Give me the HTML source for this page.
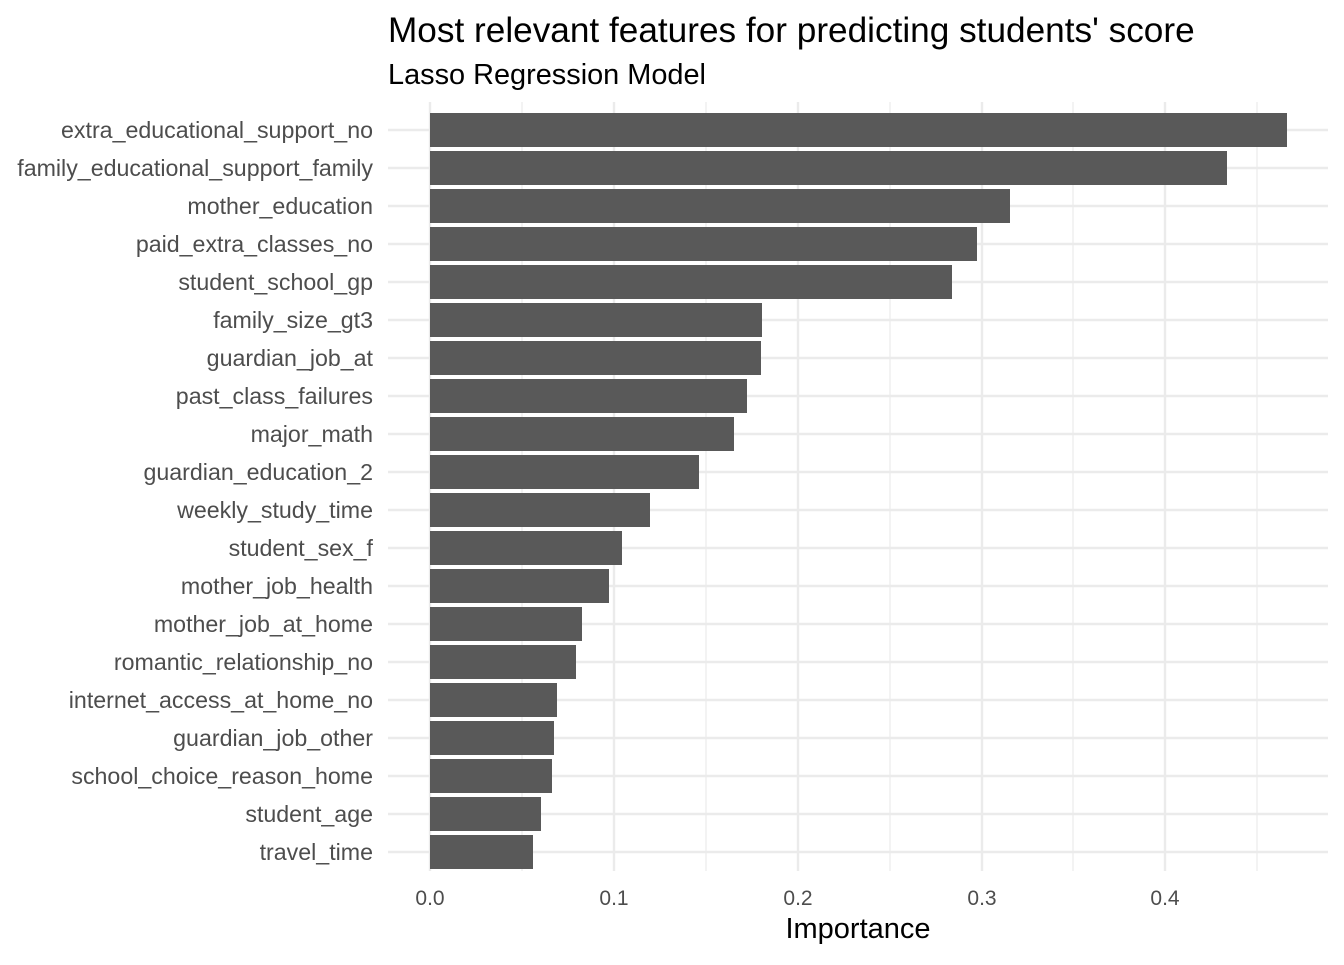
<!DOCTYPE html>
<html><head><meta charset="utf-8"><style>html,body{margin:0;padding:0;background:#fff}</style></head>
<body>
<svg width="1344" height="960" xmlns="http://www.w3.org/2000/svg" font-family="Liberation Sans, sans-serif">
<rect width="1344" height="960" fill="#fff"/>
<g stroke="#ebebeb" stroke-width="1.2">
<line x1="522" y1="102" x2="522" y2="871"/><line x1="706" y1="102" x2="706" y2="871"/><line x1="890" y1="102" x2="890" y2="871"/><line x1="1073" y1="102" x2="1073" y2="871"/><line x1="1257" y1="102" x2="1257" y2="871"/>
</g>
<g stroke="#ebebeb" stroke-width="2.4">
<line x1="430" y1="102" x2="430" y2="871"/><line x1="614" y1="102" x2="614" y2="871"/><line x1="798" y1="102" x2="798" y2="871"/><line x1="982" y1="102" x2="982" y2="871"/><line x1="1165" y1="102" x2="1165" y2="871"/>
<line x1="388" y1="130" x2="1328" y2="130"/><line x1="388" y1="168" x2="1328" y2="168"/><line x1="388" y1="206" x2="1328" y2="206"/><line x1="388" y1="244" x2="1328" y2="244"/><line x1="388" y1="282" x2="1328" y2="282"/><line x1="388" y1="320" x2="1328" y2="320"/><line x1="388" y1="358" x2="1328" y2="358"/><line x1="388" y1="396" x2="1328" y2="396"/><line x1="388" y1="434" x2="1328" y2="434"/><line x1="388" y1="472" x2="1328" y2="472"/><line x1="388" y1="510" x2="1328" y2="510"/><line x1="388" y1="548" x2="1328" y2="548"/><line x1="388" y1="586" x2="1328" y2="586"/><line x1="388" y1="624" x2="1328" y2="624"/><line x1="388" y1="662" x2="1328" y2="662"/><line x1="388" y1="700" x2="1328" y2="700"/><line x1="388" y1="738" x2="1328" y2="738"/><line x1="388" y1="776" x2="1328" y2="776"/><line x1="388" y1="814" x2="1328" y2="814"/><line x1="388" y1="852" x2="1328" y2="852"/>
</g>
<g fill="#595959">
<rect x="430" y="113" width="857" height="34"/><rect x="430" y="151" width="797" height="34"/><rect x="430" y="189" width="580" height="34"/><rect x="430" y="227" width="547" height="34"/><rect x="430" y="265" width="522" height="34"/><rect x="430" y="303" width="332" height="34"/><rect x="430" y="341" width="331" height="34"/><rect x="430" y="379" width="317" height="34"/><rect x="430" y="417" width="304" height="34"/><rect x="430" y="455" width="269" height="34"/><rect x="430" y="493" width="220" height="34"/><rect x="430" y="531" width="192" height="34"/><rect x="430" y="569" width="179" height="34"/><rect x="430" y="607" width="152" height="34"/><rect x="430" y="645" width="146" height="34"/><rect x="430" y="683" width="127" height="34"/><rect x="430" y="721" width="124" height="34"/><rect x="430" y="759" width="122" height="34"/><rect x="430" y="797" width="111" height="34"/><rect x="430" y="835" width="103" height="34"/>
</g>
<g fill="#4d4d4d" font-size="23.2" text-anchor="end">
<text x="373" y="138">extra_educational_support_no</text><text x="373" y="176">family_educational_support_family</text><text x="373" y="214">mother_education</text><text x="373" y="252">paid_extra_classes_no</text><text x="373" y="290">student_school_gp</text><text x="373" y="328">family_size_gt3</text><text x="373" y="366">guardian_job_at</text><text x="373" y="404">past_class_failures</text><text x="373" y="442">major_math</text><text x="373" y="480">guardian_education_2</text><text x="373" y="518">weekly_study_time</text><text x="373" y="556">student_sex_f</text><text x="373" y="594">mother_job_health</text><text x="373" y="632">mother_job_at_home</text><text x="373" y="670">romantic_relationship_no</text><text x="373" y="708">internet_access_at_home_no</text><text x="373" y="746">guardian_job_other</text><text x="373" y="784">school_choice_reason_home</text><text x="373" y="822">student_age</text><text x="373" y="860">travel_time</text>
</g>
<g fill="#4d4d4d" font-size="21" text-anchor="middle">
<text x="430" y="905">0.0</text><text x="614" y="905">0.1</text><text x="798" y="905">0.2</text><text x="982" y="905">0.3</text><text x="1165" y="905">0.4</text>
</g>
<text x="858" y="938" font-size="29" text-anchor="middle" fill="#000">Importance</text>
<text x="388" y="42" font-size="35.2" fill="#000">Most relevant features for predicting students' score</text>
<text x="388" y="84" font-size="28.9" fill="#000">Lasso Regression Model</text>
</svg>
</body></html>
